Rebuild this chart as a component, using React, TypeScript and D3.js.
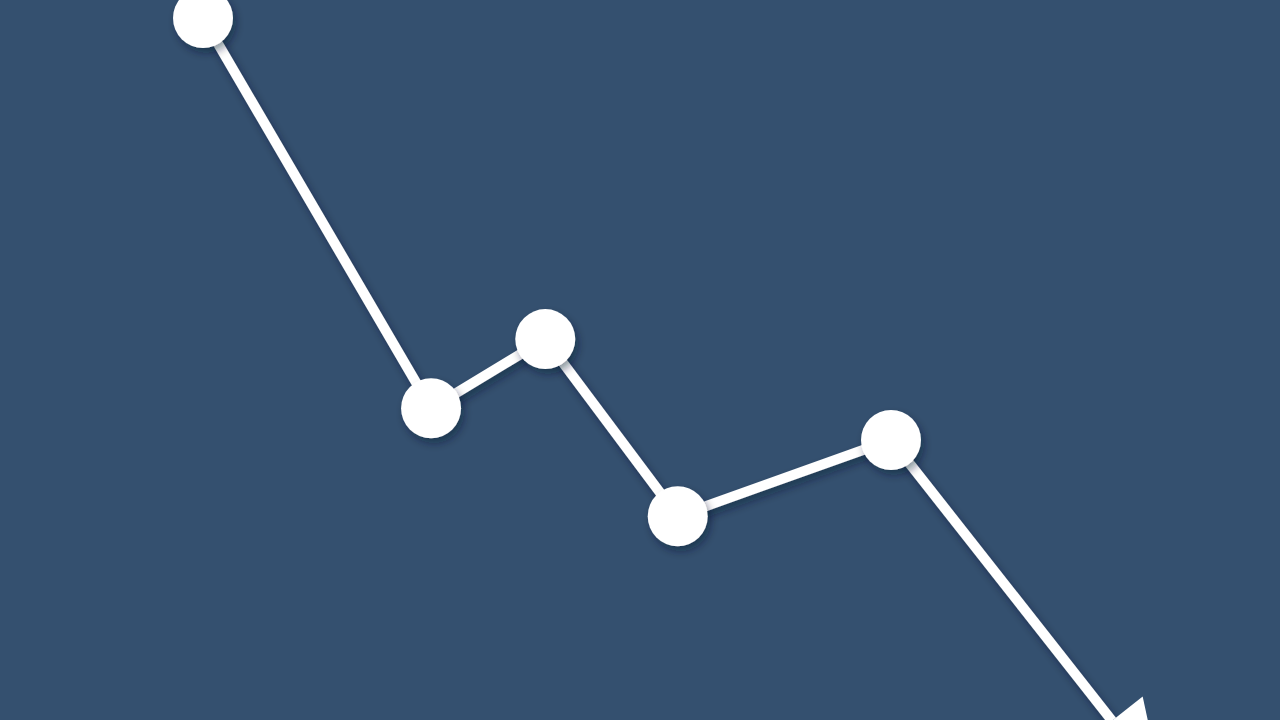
import { useMemo } from "react";
import * as d3 from "d3";

// 折れ線の各点(抽象単位)
const xValues = [1, 2.326, 2.99, 3.76, 5];
const yValues = [97.5, 43.3, 52.9, 28.3, 38.9];
// 矢印の根元(最後の区間の延長先)
const arrowX = 6.285;
const arrowY = -0.1;

const W = 1280;
const H = 720;
const BG = "#34506f";

export default function App() {
  const x = useMemo(() => d3.scaleLinear().domain([1, 5]).range([203, 891]), []);
  const y = useMemo(() => d3.scaleLinear().domain([0, 100]).range([720, 0]), []);

  const pts: [number, number][] = xValues.map((v, i) => [x(v), y(yValues[i])]);
  const end: [number, number] = [x(arrowX), y(arrowY)];
  const line = d3.line()([...pts, end]) ?? "";

  // 矢印の三角形
  const last = pts[pts.length - 1];
  const dx = end[0] - last[0];
  const dy = end[1] - last[1];
  const len = Math.hypot(dx, dy);
  const ux = dx / len;
  const uy = dy / len;
  const px = -uy;
  const py = ux;
  const half = 39;
  const tipLen = 80;
  const arrow = d3.path();
  arrow.moveTo(end[0] + px * half, end[1] + py * half);
  arrow.lineTo(end[0] + ux * tipLen, end[1] + uy * tipLen);
  arrow.lineTo(end[0] - px * half, end[1] - py * half);
  arrow.closePath();

  return (
    <svg
      width={W}
      height={H}
      style={{ position: "fixed", left: 0, top: 0, display: "block" }}
    >
      <defs>
        <filter id="shadow" x="-50%" y="-50%" width="200%" height="200%">
          <feDropShadow dx="3" dy="5" stdDeviation="4" floodColor="#0c1a2b" floodOpacity="0.45" />
        </filter>
      </defs>
      <rect width={W} height={H} fill={BG} />
      <path d={line} fill="none" stroke="#fff" strokeWidth={10} strokeLinejoin="round" filter="url(#shadow)" />
      <path d={arrow.toString()} fill="#fff" />
      {pts.map((p, i) => (
        <circle key={i} cx={p[0]} cy={p[1]} r={30} fill="#fff" filter="url(#shadow)" />
      ))}
    </svg>
  );
}
